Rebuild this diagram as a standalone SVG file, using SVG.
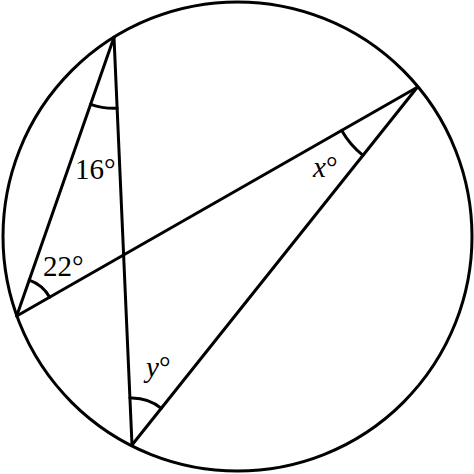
<svg xmlns="http://www.w3.org/2000/svg" width="474" height="474" viewBox="0 0 474 474">
<style>
.ln{stroke:#000;stroke-width:3;fill:none;stroke-linecap:round;stroke-linejoin:round}
.lbl{font-family:"Liberation Serif","Times New Roman",serif;font-size:29px;fill:#000}
.it{font-style:italic}
</style>
<rect width="474" height="474" fill="#fff"/>
<g id="circle"><circle class="ln" cx="237.5" cy="236.5" r="234.5"/></g>
<g id="connectors">
<line class="ln" x1="114" y1="37.3" x2="16.7" y2="316"/>
<line class="ln" x1="114" y1="37.3" x2="132" y2="445"/>
<line class="ln" x1="16.7" y1="316" x2="417.3" y2="87.3"/>
<line class="ln" x1="417.3" y1="87.3" x2="132" y2="445"/>
</g>
<g id="angleA"><path class="ln" d="M90.6,104.3 A71,71 0 0 0 117.1,108.2"/><text class="lbl" x="75" y="179">16°</text></g>
<g id="angleB"><path class="ln" d="M29.2,280.1 A38,38 0 0 1 49.7,297.2"/><text class="lbl" x="43" y="276">22°</text></g>
<g id="angleC"><path class="ln" d="M341.7,130.4 A87,87 0 0 0 363,155.3"/><text class="lbl" x="313" y="177"><tspan class="it">x</tspan>°</text></g>
<g id="angleD"><path class="ln" d="M129.9,398 A47,47 0 0 1 161.3,408.3"/><text class="lbl" x="146" y="377"><tspan class="it">y</tspan>°</text></g>
</svg>
